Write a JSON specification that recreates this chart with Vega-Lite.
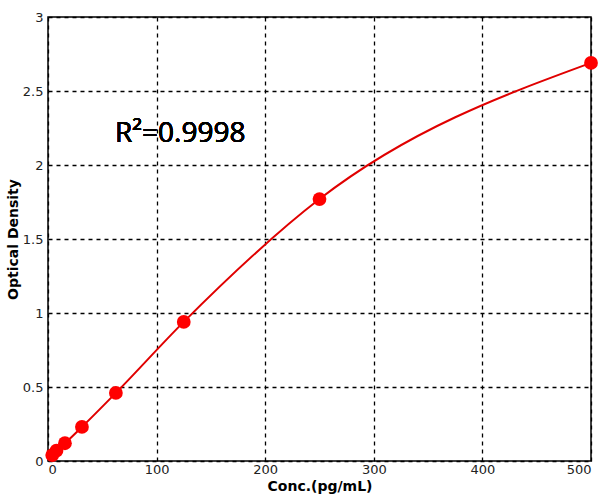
{
  "$schema": "https://vega.github.io/schema/vega-lite/v6.json",
  "width": 543,
  "height": 444,
  "autosize": "none",
  "padding": {"left": 48, "top": 17, "right": 22, "bottom": 39},
  "background": "white",
  "config": {
    "view": {"stroke": "black", "strokeWidth": 1.5},
    "axis": {
      "grid": true,
      "gridColor": "black",
      "gridOpacity": 1,
      "gridDash": [4, 4],
      "gridWidth": 1.3,
      "domain": false,
      "ticks": false,
      "labelFont": "DejaVu Sans",
      "labelFontSize": 13,
      "labelColor": "#222222",
      "titleFont": "DejaVu Sans",
      "titleFontSize": 14,
      "titleFontWeight": "bold",
      "titleColor": "black"
    }
  },
  "data": {
    "values": [
      {"conc": 3.9, "od": 0.04},
      {"conc": 7.8, "od": 0.07},
      {"conc": 15.6, "od": 0.12},
      {"conc": 31.25, "od": 0.23},
      {"conc": 62.5, "od": 0.46},
      {"conc": 125, "od": 0.94},
      {"conc": 250, "od": 1.77},
      {"conc": 500, "od": 2.69}
    ]
  },
  "encoding": {
    "x": {
      "field": "conc",
      "type": "quantitative",
      "scale": {"domain": [0, 500], "nice": false},
      "axis": {
        "title": "Conc.(pg/mL)",
        "values": [0, 100, 200, 300, 400, 500],
        "format": "d",
        "labelPadding": 2,
        "labelDx": 6,
        "titlePadding": 3
      }
    },
    "y": {
      "field": "od",
      "type": "quantitative",
      "scale": {"domain": [0, 3], "nice": false},
      "axis": {
        "title": "Optical Density",
        "values": [0, 0.5, 1, 1.5, 2, 2.5, 3],
        "format": "~g",
        "labelPadding": 5,
        "titlePadding": 2
      }
    }
  },
  "layer": [
    {
      "mark": {"type": "line", "color": "#e00000", "strokeWidth": 2, "interpolate": "monotone"}
    },
    {
      "mark": {"type": "point", "shape": "circle", "filled": true, "color": "#ff0000", "opacity": 1, "size": 190}
    },
    {
      "mark": {
        "type": "text",
        "text": "R²=0.9998",
        "font": "Open Sans",
        "fontSize": 28,
        "align": "left",
        "baseline": "alphabetic",
        "color": "black"
      },
      "encoding": {
        "x": {"datum": 61.7},
        "y": {"datum": 2.155}
      }
    }
  ]
}
